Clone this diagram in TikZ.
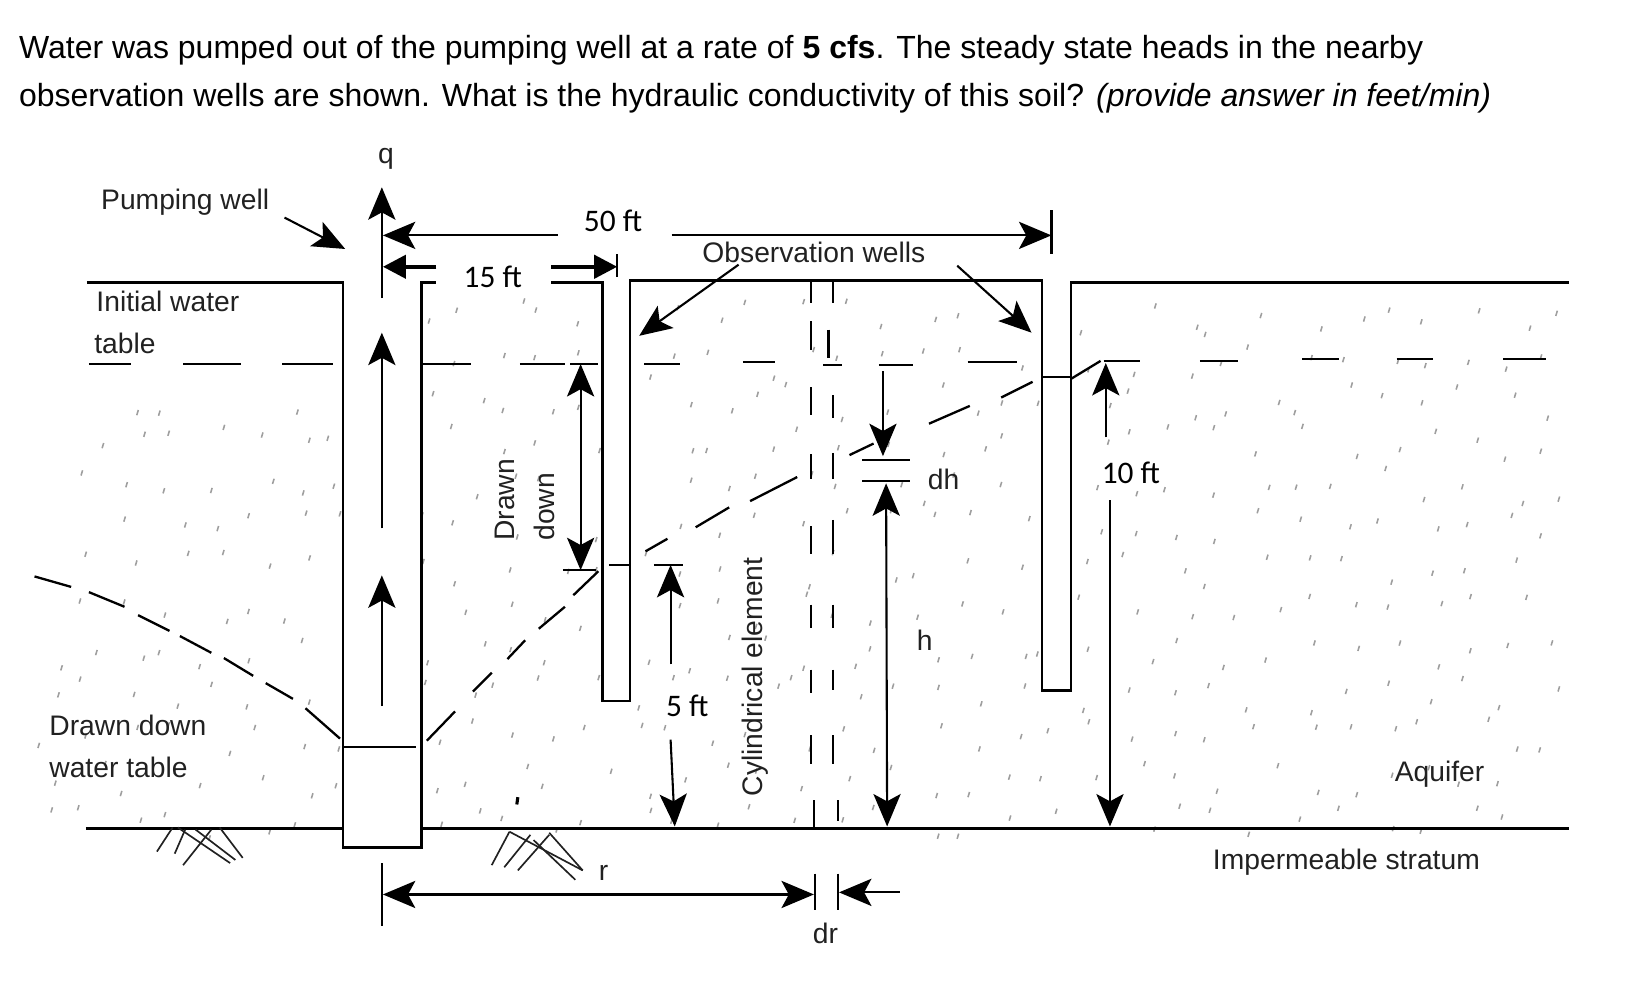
\documentclass[tikz,border=0pt]{standalone}
\usepackage{fontspec}
\setmainfont{Liberation Sans}
\newfontfamily\calib{Carlito}
\usetikzlibrary{arrows.meta}
\definecolor{speck}{gray}{0.62}
\definecolor{inkgray}{gray}{0.13}
\tikzset{
  ln/.style={line width=2.2pt, black},
  thin ln/.style={line width=1.9pt, black},
  arr/.style={line width=2pt, -{Stealth[length=31pt,width=26pt,inset=7pt]}},
  barr/.style={line width=4pt, -{Stealth[length=22pt,width=22pt,inset=0pt]}},
  lbl/.style={inkgray, font=\fontsize{27}{32}\selectfont, inner sep=0pt},
  dim/.style={black, font=\calib\fontsize{30}{36}\selectfont, inner sep=0pt},
  para/.style={black, font=\fontsize{30.6}{36}\selectfont, inner sep=0pt, anchor=base west},
}
\begin{document}
\begin{tikzpicture}[x=1pt, y=-1pt]
	\useasboundingbox (0,0) rectangle (1560,960);
	\node[para] (line1) at (18,56) {Water was pumped out of the pumping well at a rate of \textbf{5 cfs}. The steady state heads in the nearby};
	\node[para] (line2) at (18,102) {observation wells are shown. What is the hydraulic conductivity of this soil? \textit{(provide answer in feet/min)}};
	%% speckles of the aquifer
	\pgfmathsetseed{11}
	\foreach \gx in {30,70,...,1490}{
		\foreach \gy in {290,330,...,770}{
			\pgfmathsetmacro\sx{\gx+rnd*34}
			\pgfmathsetmacro\sy{\gy+rnd*34}
			\pgfmathtruncatemacro\skip{(\sx<328 && \sy<385) || (\sx<75 && \sy<600) || (\sx>1490) ? 1 : 0}
			\ifnum\skip=0
				\draw[speck, line width=1.5pt] (\sx,\sy) -- ++(1.5,-5);
			\fi
		}
	}
	%% wells
	\fill[white] (328,270) rectangle (403,810);
	\fill[white] (576,270) rectangle (602,670);
	\fill[white] (996,270) rectangle (1024,660);
	\draw[ln] (83,270) -- (328,270) -- (328,810) -- (403,810) -- (403,270) -- (417,270);
	\draw[ln] (527,270) -- (576,270) -- (576,670) -- (602,670) -- (602,268) -- (996,268) -- (996,660) -- (1024,660) -- (1024,270) -- (1500,270);
	\draw[ln] (82,792) -- (328,792);
	\draw[ln] (403,792) -- (1500,792);
	%% water levels
	\draw[thin ln] (328,714) -- (398,714);
	\draw[thin ln] (582,540) -- (602,540);
	\draw[thin ln] (996,360) -- (1024,360);
	%% initial water table
	\foreach \a/\b/\c in {85/125/348,175/230/348,270/318/348,403/450/348,497/540/348,545/572/348,616/650/348,710/741/346,787/805/349,840/873/349,925/972/346,1055/1090/345,1147/1183/345,1245/1280/343,1335/1370/343,1437/1478/343}
		\draw[ln] (\a,\c) -- (\b,\c);
	%% drawn down water table
	\foreach \a/\b/\c/\d in {33/551/68/561,85/566/119/580,132/588/162/603,172/608/202/624,214/629/242/646,254/653/280/668,292/677/325/706,408/708/435/680,452/661/470/643,485/630/502/612,515/601/540/580,548/569/572/546,617/527/638/515,665/504/697/485,717/479/762/456,812/435/835/424,888/405/927/388,957/380/987/365,1024/362/1052/345}
		\draw[ln] (\a,\b) -- (\c,\d);
	%% cylindrical element
	\foreach \a/\b in {270/290,307/335,370/397,434/458,503/530,578/600,640/662,703/730}
		\draw[ln] (775,\a) -- (775,\b);
	\draw[ln] (778,765) -- (778,792);
	\foreach \a/\b in {270/290,378/400,433/458,497/530,578/600,640/660,703/730}
		\draw[ln] (796,\a) -- (796,\b);
	\draw[ln] (792,315) -- (792,342);
	\draw[ln] (801,765) -- (801,785);
	%% flow in the pumping well
	\draw[arr] (365,285) -- (365,179);
	\draw[arr] (365,505) -- (365,318);
	\draw[arr] (365,675) -- (365,550);
	\node[lbl] (q) at (369,152) {q};
	\node[lbl] (pumping) at (177,193) {Pumping well};
	\draw[arr] (272,208) -- (330,238);
	%% distances from the pumping well
	\draw[arr] (533,225) -- (366,225);
	\draw[arr] (642,225) -- (1005,225);
	\draw[ln] (1005,201) -- (1005,243);
	\node[dim] (fifty) at (586,211) {50 ft};
	\draw[barr] (417,255) -- (366,255);
	\draw[barr] (527,255) -- (590,255);
	\draw[ln] (590,243) -- (590,265);
	\node[dim] (fifteen) at (471,265) {15 ft};
	\node[lbl] (obs) at (778,241) {Observation wells};
	\draw[arr] (706,253) -- (611,321);
	\draw[arr] (915,254) -- (986,318);
	\node[lbl, anchor=base west] (initial) at (92,298) {Initial water};
	\node[lbl, anchor=base west] (table) at (90,338) {table};
	%% drawdown at the first well
	\draw[arr, {Stealth[length=31pt,width=26pt,inset=7pt]}-{Stealth[length=31pt,width=26pt,inset=7pt]}] (555,348) -- (555,545);
	\draw[ln] (538,545) -- (570,545);
	\node[lbl, rotate=90, anchor=base west] (drawn) at (492,517) {Drawn};
	\node[lbl, rotate=90, anchor=base west] (down) at (530,517) {down};
	%% heads
	\draw[arr] (641,635) -- (641,540);
	\draw[ln] (625,540) -- (653,540);
	\node[dim] (five) at (657,675) {5 ft};
	\draw[arr] (641,707) -- (645,790);
	\node[lbl, rotate=90] (cyl) at (722,647) {Cylindrical element};
	\draw[arr] (844,355) -- (844,436);
	\draw[ln] (824,440) -- (870,440);
	\draw[ln] (824,460) -- (870,460);
	\draw[arr, {Stealth[length=31pt,width=26pt,inset=7pt]}-{Stealth[length=31pt,width=26pt,inset=7pt]}] (847,462) -- (848,790);
	\node[lbl] (dh) at (902,458) {dh};
	\node[lbl] (h) at (884,612) {h};
	\draw[arr] (1057,418) -- (1057,347);
	\node[dim] (ten) at (1081,452) {10 ft};
	\draw[arr] (1061,478) -- (1061,790);
	\node[lbl] (aquifer) at (1376,740) {Aquifer};
	\node[lbl] (stratum) at (1287,824) {Impermeable stratum};
	\node[lbl, anchor=base west] (ddown) at (47,703) {Drawn down};
	\node[lbl, anchor=base west] (dtable) at (47,743) {water table};
	%% impermeable hatching
	\foreach \a/\b/\c/\d in {165/791/150/814,177/793/167/816,202/793/175/827,170/791/220/825,187/793/225/822,210/791/232/820,487/795/470/827,507/798/482/829,525/798/495/832,487/795/557/832,525/796/557/832,510/803/550/841}
		\draw[line width=1.6pt, inkgray] (\a,\b) -- (\c,\d);
	\draw[line width=3pt, black] (495,762) -- (494,769);
	%% radius
	\draw[ln] (365,825) -- (365,885);
	\draw[ln] (779,835) -- (779,870);
	\draw[ln] (801,835) -- (801,870);
	\draw[arr, {Stealth[length=31pt,width=26pt,inset=7pt]}-{Stealth[length=31pt,width=26pt,inset=7pt]}] (366,855) -- (778,855);
	\draw[arr] (860,853) -- (802,853);
	\node[lbl] (r) at (577,834) {r};
	\node[lbl] (dr) at (789,892) {dr};
\end{tikzpicture}
\end{document}
